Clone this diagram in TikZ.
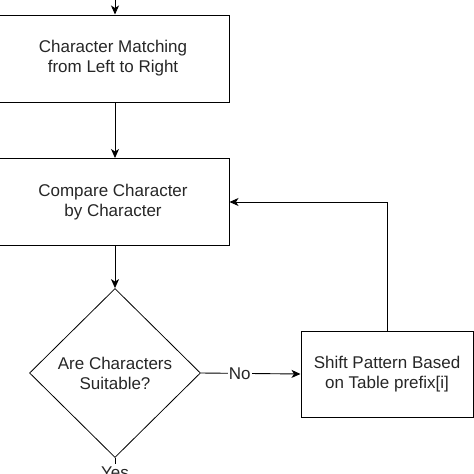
\documentclass[tikz,border=0pt]{standalone}
\usepackage{fontspec}
\setmainfont{Liberation Sans}
\usetikzlibrary{shapes.geometric,arrows.meta}
\begin{document}
\begin{tikzpicture}[x=1pt,y=-1pt,
  every node/.style={font=\fontsize{17}{20}\selectfont, align=center, text=black!85},
  procbox/.style={draw, line width=1pt, minimum width=232pt, minimum height=87pt, inner sep=0pt},
  sidebox/.style={draw, line width=1pt, minimum width=172pt, minimum height=86pt, inner sep=0pt},
  decision/.style={draw, diamond, line width=0.8pt, aspect=1.01, minimum width=171pt, minimum height=169pt, inner sep=0pt},
  arr/.style={line width=0.9pt, -{Stealth[length=9pt,width=8pt,inset=2.5pt]}},
  plain/.style={line width=0.9pt},
  edgelabel/.style={fill=white, inner sep=1pt}]
\useasboundingbox (0,0) rectangle (474,474);
\coordinate (start) at (115,-2);
\node[procbox] (match) at (113,58.5) {Character Matching\\from Left to Right};
\node[procbox] (compare) at (113,202) {Compare Character\\by Character};
\node[decision] (dia) at (115,373) {Are Characters\\Suitable?};
\node[sidebox] (shift) at (387,374) {Shift Pattern Based\\on Table prefix[i]};
\node[anchor=base, inner sep=2pt] (yes) at (115,478) {Yes};
\draw[arr] (start) -- (match.north -| start);
\draw[arr] (match.south -| start) -- (compare.north -| start);
\draw[arr] (compare.south -| start) -- (dia.north);
\draw[arr] (dia.east) -- node[edgelabel, pos=0.39] {No} (shift.west);
\draw[arr] (shift.north) |- (compare.east);
\draw[plain] (dia.south) -- (yes.north);
\end{tikzpicture}
\end{document}
